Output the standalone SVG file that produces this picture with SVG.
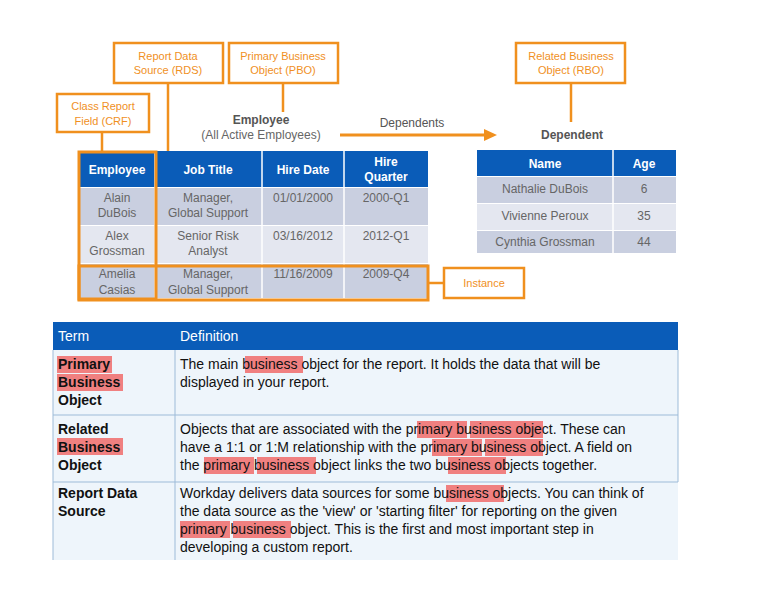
<svg xmlns="http://www.w3.org/2000/svg" width="768" height="594" viewBox="0 0 768 594">
<style>
text{font-family:"Liberation Sans",Arial,sans-serif}
.cb{fill:#fff;stroke:#f0901e;stroke-width:2.5}
.cl{font-size:11px;fill:#f0901e;text-anchor:middle}
.ln{stroke:#f0901e;stroke-width:2.5;fill:none}
.hd{fill:#0a5cb8}
.ht{font-size:12px;font-weight:bold;fill:#fff;text-anchor:middle}
.r1{fill:#c9cfe0}.r2{fill:#e4e7f0}
.ct{font-size:12px;fill:#666;text-anchor:middle}
.hl{fill:#f08080}
.bt{font-size:14px;fill:#111}
.bb{font-size:14px;fill:#111;font-weight:bold}
</style>
<rect width="768" height="594" fill="#fff"/>
<g id="connectors">
<line class="ln" x1="102" y1="132" x2="102" y2="152"/>
<line class="ln" x1="168" y1="83" x2="168" y2="152"/>
<line class="ln" x1="283" y1="83" x2="283" y2="112"/>
<line class="ln" x1="571" y1="83" x2="571" y2="122"/>
<line class="ln" x1="428" y1="283" x2="444" y2="283"/>
<line x1="340" y1="135" x2="484" y2="135" stroke="#f0901e" stroke-width="3"/>
<polygon points="484,129 497,135 484,141" fill="#f0901e"/>
<text x="412" y="127" font-size="12" fill="#555" text-anchor="middle">Dependents</text>
</g>
<g id="labels">
<g id="rds"><rect class="cb" x="114" y="43" width="109" height="40"/><text class="cl" x="168" y="60">Report Data</text><text class="cl" x="168" y="74">Source (RDS)</text></g>
<g id="pbo"><rect class="cb" x="229" y="43" width="109" height="40"/><text class="cl" x="283" y="60">Primary Business</text><text class="cl" x="283" y="74">Object (PBO)</text></g>
<g id="crf"><rect class="cb" x="57" y="94" width="92" height="38"/><text class="cl" x="103" y="110" font-size="12">Class Report</text><text class="cl" x="103" y="125" font-size="12">Field (CRF)</text></g>
<g id="rbo"><rect class="cb" x="516" y="43" width="109" height="40"/><text class="cl" x="571" y="60">Related Business</text><text class="cl" x="571" y="74">Object (RBO)</text></g>
<g id="inst"><rect class="cb" x="444" y="268" width="80" height="30"/><text class="cl" x="484" y="287">Instance</text></g>
</g>
<g id="employee-table">
<text x="261" y="124" font-size="12" font-weight="bold" fill="#555" text-anchor="middle">Employee</text>
<text x="261" y="139" font-size="12" fill="#666" text-anchor="middle">(All Active Employees)</text>
<rect class="hd" x="80" y="151" width="348" height="36"/>
<rect class="r1" x="80" y="188" width="348" height="37"/>
<rect class="r2" x="80" y="226" width="348" height="37"/>
<rect class="r1" x="80" y="264" width="348" height="34"/>
<g stroke="#fff" stroke-width="1.5"><line x1="155" y1="151" x2="155" y2="298"/><line x1="262" y1="151" x2="262" y2="298"/><line x1="344" y1="151" x2="344" y2="298"/></g>
<text class="ht" x="117" y="174">Employee</text><text class="ht" x="208" y="174">Job Title</text><text class="ht" x="303" y="174">Hire Date</text><text class="ht" x="386" y="166">Hire</text><text class="ht" x="386" y="181">Quarter</text>
<text class="ct" x="117" y="202">Alain</text><text class="ct" x="117" y="217">DuBois</text><text class="ct" x="208" y="202">Manager,</text><text class="ct" x="208" y="217">Global Support</text><text class="ct" x="303" y="202">01/01/2000</text><text class="ct" x="386" y="202">2000-Q1</text>
<text class="ct" x="117" y="240">Alex</text><text class="ct" x="117" y="255">Grossman</text><text class="ct" x="208" y="240">Senior Risk</text><text class="ct" x="208" y="255">Analyst</text><text class="ct" x="303" y="240">03/16/2012</text><text class="ct" x="386" y="240">2012-Q1</text>
<text class="ct" x="117" y="278">Amelia</text><text class="ct" x="117" y="294">Casias</text><text class="ct" x="208" y="278">Manager,</text><text class="ct" x="208" y="294">Global Support</text><text class="ct" x="303" y="278">11/16/2009</text><text class="ct" x="386" y="278">2009-Q4</text>
<rect x="79" y="152" width="77" height="147" fill="none" stroke="#f0901e" stroke-width="3"/>
<rect x="79" y="266" width="349" height="34" fill="none" stroke="#f0901e" stroke-width="3"/>
</g>
<g id="dependent-table">
<text x="572" y="139" font-size="12" font-weight="bold" fill="#555" text-anchor="middle">Dependent</text>
<rect class="hd" x="477" y="150" width="199" height="26"/>
<rect class="r1" x="477" y="177" width="199" height="26"/>
<rect class="r2" x="477" y="204" width="199" height="26"/>
<rect class="r1" x="477" y="231" width="199" height="22"/>
<line x1="613" y1="150" x2="613" y2="253" stroke="#fff" stroke-width="1.5"/>
<text class="ht" x="545" y="168">Name</text><text class="ht" x="644" y="168">Age</text>
<text class="ct" x="545" y="193">Nathalie DuBois</text><text class="ct" x="644" y="193">6</text>
<text class="ct" x="545" y="220">Vivienne Peroux</text><text class="ct" x="644" y="220">35</text>
<text class="ct" x="545" y="246">Cynthia Grossman</text><text class="ct" x="644" y="246">44</text>
</g>
<g id="term-table">
<rect x="53" y="322" width="625" height="238" fill="#eef5fb"/>
<rect class="hd" x="53" y="322" width="625" height="28"/>
<text x="58" y="341" font-size="14" fill="#fff">Term</text><text x="180" y="341" font-size="14" fill="#fff">Definition</text>
<g stroke="#9dbbd8" stroke-width="1"><line x1="53" y1="415" x2="678" y2="415"/><line x1="53" y1="482" x2="678" y2="482"/><line x1="175" y1="350" x2="175" y2="560"/><line x1="53" y1="350" x2="53" y2="560"/><line x1="678" y1="350" x2="678" y2="482"/></g>
<g class="hl">
<rect x="57" y="356" width="55" height="17"/><rect x="57" y="374" width="66" height="17"/>
<rect x="57" y="438" width="66" height="17"/>
<rect x="245" y="356" width="58" height="17"/>
<rect x="417" y="421" width="50" height="17"/><rect x="470" y="421" width="73" height="17"/>
<rect x="432" y="439" width="50" height="17"/><rect x="485" y="439" width="58" height="17"/>
<rect x="204" y="457" width="50" height="17"/><rect x="257" y="457" width="59" height="17"/><rect x="448" y="457" width="58" height="17"/>
<rect x="446" y="485" width="58" height="17"/>
<rect x="180" y="521" width="50" height="17"/><rect x="233" y="521" width="58" height="17"/>
</g>
<text class="bb" x="58" y="369">Primary</text><text class="bb" x="58" y="387">Business</text><text class="bb" x="58" y="405">Object</text>
<text class="bt" x="180" y="369">The main business object for the report. It holds the data that will be</text>
<text class="bt" x="180" y="387">displayed in your report.</text>
<text class="bb" x="58" y="434">Related</text><text class="bb" x="58" y="452">Business</text><text class="bb" x="58" y="470">Object</text>
<text class="bt" x="180" y="434">Objects that are associated with the primary business object. These can</text>
<text class="bt" x="180" y="452">have a 1:1 or 1:M relationship with the primary business object. A field on</text>
<text class="bt" x="180" y="470">the primary business object links the two business objects together.</text>
<text class="bb" x="58" y="498">Report Data</text><text class="bb" x="58" y="516">Source</text>
<text class="bt" x="180" y="498">Workday delivers data sources for some business objects. You can think of</text>
<text class="bt" x="180" y="516">the data source as the 'view' or 'starting filter' for reporting on the given</text>
<text class="bt" x="180" y="534">primary business object. This is the first and most important step in</text>
<text class="bt" x="180" y="552">developing a custom report.</text>
</g>
</svg>
